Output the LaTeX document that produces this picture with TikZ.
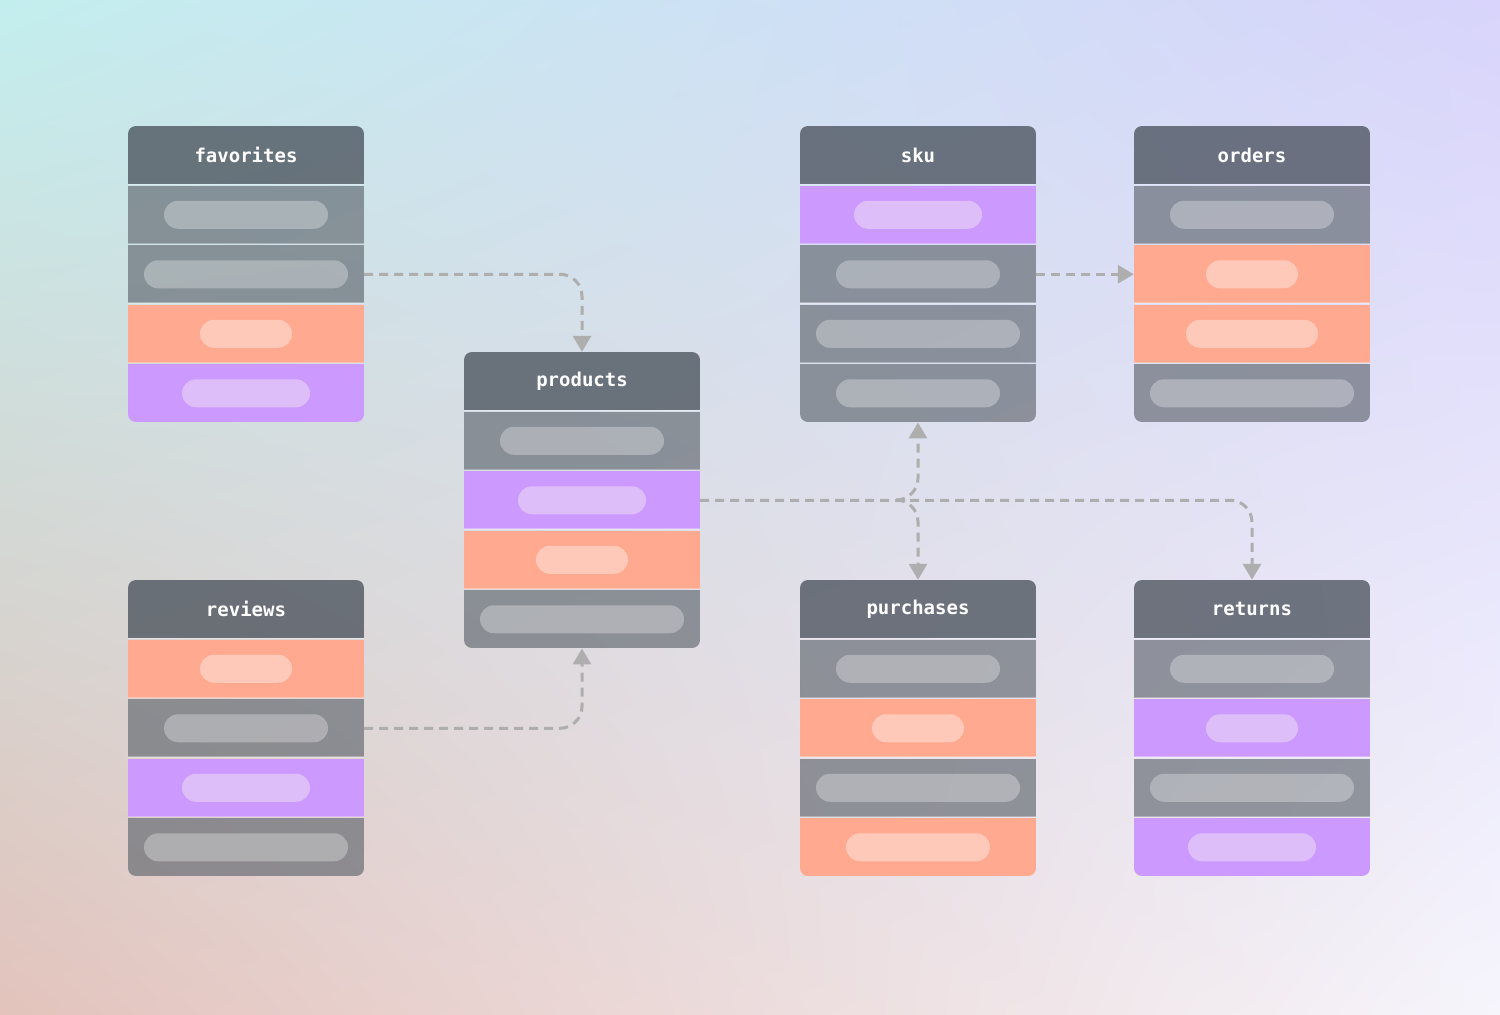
\documentclass[tikz,border=0pt]{standalone}
\usepackage{fontspec}
\setmonofont{DejaVu Sans Mono}
\usetikzlibrary{arrows.meta,shadings}
\definecolor{bgtl}{HTML}{C3EEEE}\definecolor{bgtr}{HTML}{D8D4FB}
\definecolor{bgbl}{HTML}{E3C3BC}\definecolor{bgbr}{HTML}{F6F5FC}
\definecolor{hdrc}{HTML}{454D57}\definecolor{grc}{HTML}{5F666E}
\definecolor{orc}{HTML}{FFAA90}\definecolor{orpc}{HTML}{FFC9B9}
\definecolor{puc}{HTML}{CC99FF}\definecolor{pupc}{HTML}{DDBEF9}
\definecolor{connc}{HTML}{AEAEAE}
\tikzset{x=1pt,y=-1pt,
 hdr/.style={fill=hdrc,fill opacity=0.75,text opacity=1,text=white,minimum width=236pt,minimum height=58pt,inner sep=0,font=\ttfamily\bfseries\fontsize{19}{19}\selectfont},
 rowbase/.style={minimum width=236pt,minimum height=58pt,inner sep=0},
 rowgr/.style={rowbase,fill=grc,fill opacity=0.65},
 rowor/.style={rowbase,fill=orc},
 rowpu/.style={rowbase,fill=puc},
 pillbase/.style={rounded corners=14pt,minimum height=28pt,inner sep=0},
 pillgr/.style={pillbase,fill=white,fill opacity=0.3},
 pillor/.style={pillbase,fill=orpc},
 pillpu/.style={pillbase,fill=pupc},
 conn/.style={draw=connc,line width=3pt,dash pattern=on 9pt off 6pt,rounded corners=22pt},
 tip/.style={-{Triangle[width=18pt,length=16pt]}}}
\newcommand\dbtab[5]{%
 \begin{scope}
 \clip[rounded corners=8pt] (#2,#3) rectangle ++(236,296);
 \foreach \c/\w [count=\i] in {#5}{
   \node[row\c] (#1-\i) at ({#2+118},{#3+59+(\i-0.5)*59.5}) {};
   \node[pill\c,minimum width=\w pt] at ({#2+118},{#3+59+(\i-0.5)*59.5}) {};
   \draw[white,opacity=0.3,line width=1.5pt] (#2,{#3+58+(\i-1)*59.5}) -- ++(236,0);
 }
 \node[hdr] (#1) at ({#2+118},{#3+29}) {#4};
 \end{scope}}
\begin{document}
\begin{tikzpicture}
\shade[upper left=bgtl,upper right=bgtr,lower left=bgbl,lower right=bgbr] (0,0) rectangle (1500,1015);
\useasboundingbox (0,0) rectangle (1500,1015);
\coordinate (br) at (896,500);
\coordinate (br2) at (896,500);
\dbtab{fav}{128}{126}{favorites}{gr/164,gr/204,or/92,pu/128}
\dbtab{prod}{464}{352}{products}{gr/164,pu/128,or/92,gr/204}
\dbtab{sku}{800}{126}{sku}{pu/128,gr/164,gr/204,gr/164}
\dbtab{ord}{1134}{126}{orders}{gr/164,or/92,or/132,gr/204}
\dbtab{rev}{128}{580}{reviews}{or/92,gr/164,pu/128,gr/204}
\dbtab{pur}{800}{580}{purchases}{gr/164,or/92,gr/204,or/144}
\dbtab{ret}{1134}{580}{returns}{gr/164,pu/92,gr/204,pu/128}
\draw[conn,tip] (fav-2.east) -| (prod.north);
\draw[conn,tip] (rev-2.east) -| (prod-4.south);
\draw[conn,tip,rounded corners=0] (sku-2.east) -- (ord-2.west);
\draw[conn,tip] (prod-2.east) -| (ret.north);
\draw[conn,tip] (br) -| (sku-4.south);
\draw[conn,tip] (br2) -| (pur.north);
\end{tikzpicture}
\end{document}
